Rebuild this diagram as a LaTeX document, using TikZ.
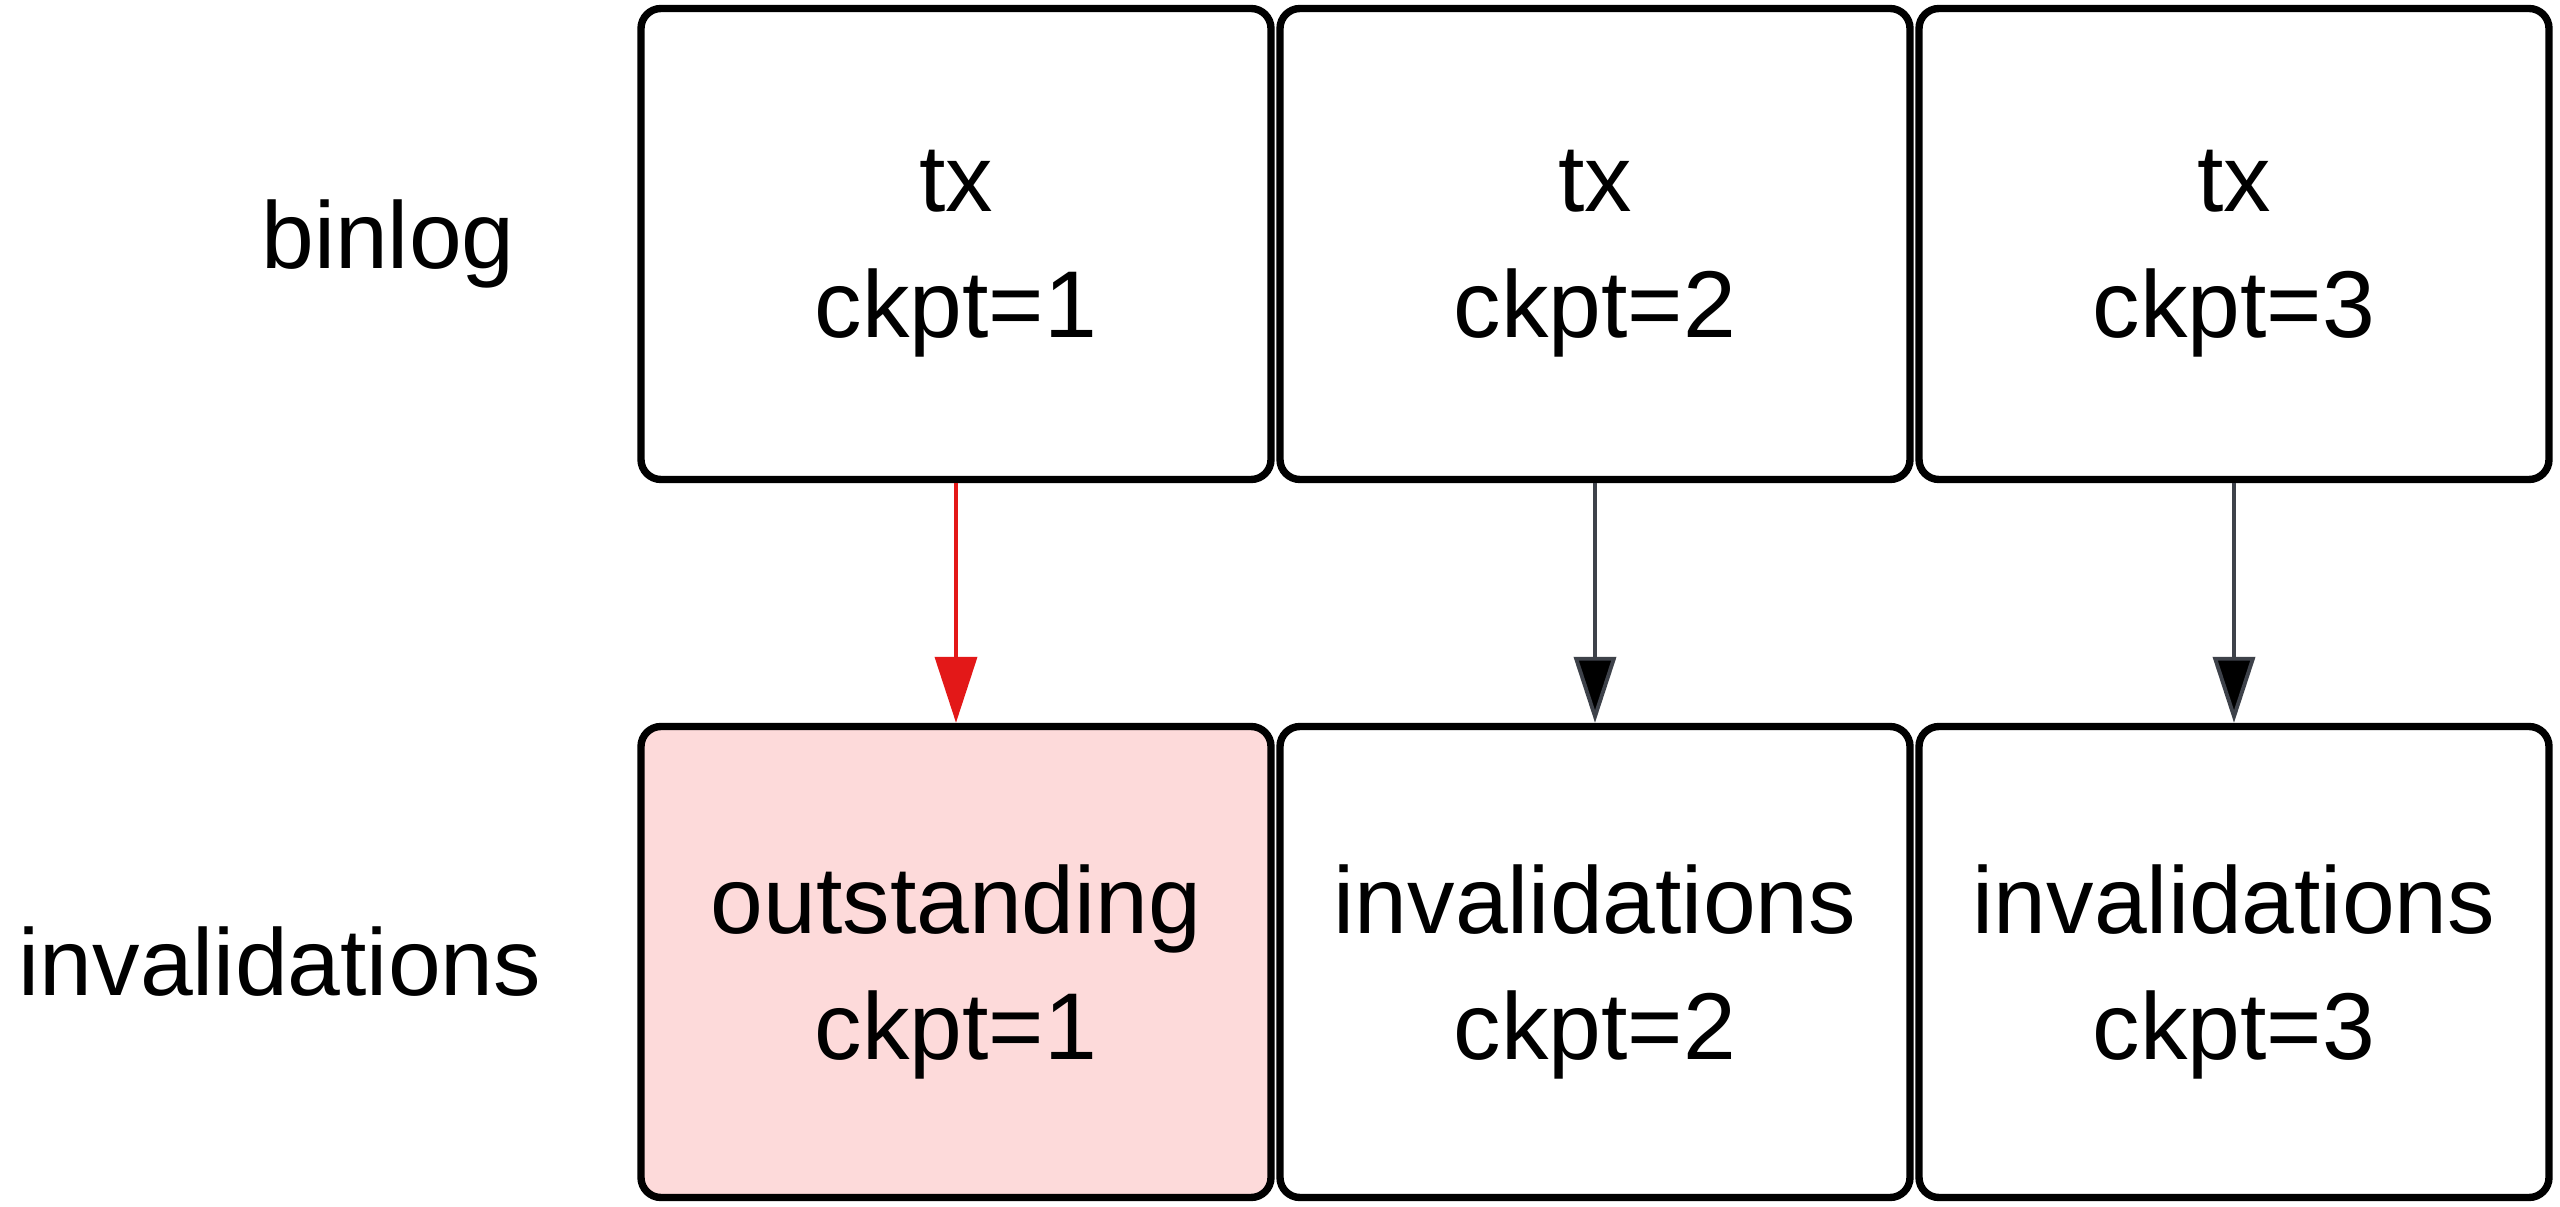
\documentclass[tikz,border=0pt]{standalone}
\usepackage{fontspec}
\setmainfont{Liberation Sans}
\usetikzlibrary{positioning, arrows.meta}
\definecolor{ckred}{RGB}{227,24,24}
\definecolor{ckgray}{RGB}{62,66,74}
\definecolor{ckpink}{RGB}{253,218,218}

\begin{document}
\begin{tikzpicture}[node distance=7.18cm and 6.39cm, on grid,
    every node/.style={font=\fontsize{27}{36}\selectfont},
    ckbox/.style={draw, line width=2.1pt, rounded corners=0.2cm,
        minimum width=6.3cm, minimum height=4.71cm, align=center, text depth=0pt},
    flow/.style={-{Triangle[length=0.66cm, width=0.42cm]}, line width=1.1pt, draw=ckgray}]
   \useasboundingbox (0,0) rectangle (25.6,12.06);

   % binlog row
   \node[ckbox] (tx1) at (9.56,9.62) {tx\\ckpt=1};
   \node[ckbox] (tx2) [right=of tx1] {tx\\ckpt=2};
   \node[ckbox] (tx3) [right=of tx2] {tx\\ckpt=3};

   % invalidations row
   \node[ckbox, fill=ckpink] (inv1) [below=of tx1] {outstanding\\ckpt=1};
   \node[ckbox] (inv2) [below=of tx2] {invalidations\\ckpt=2};
   \node[ckbox] (inv3) [below=of tx3] {invalidations\\ckpt=3};

   % row labels
   \node (binlog) [left=5.68cm of tx1] {binlog};
   \node (invalidations) [left=6.76cm of inv1] {invalidations};

   \path[flow]
    (tx1) edge [draw=ckred] (inv1)
    (tx2) edge (inv2)
    (tx3) edge (inv3)
    ;
\end{tikzpicture}
\end{document}
